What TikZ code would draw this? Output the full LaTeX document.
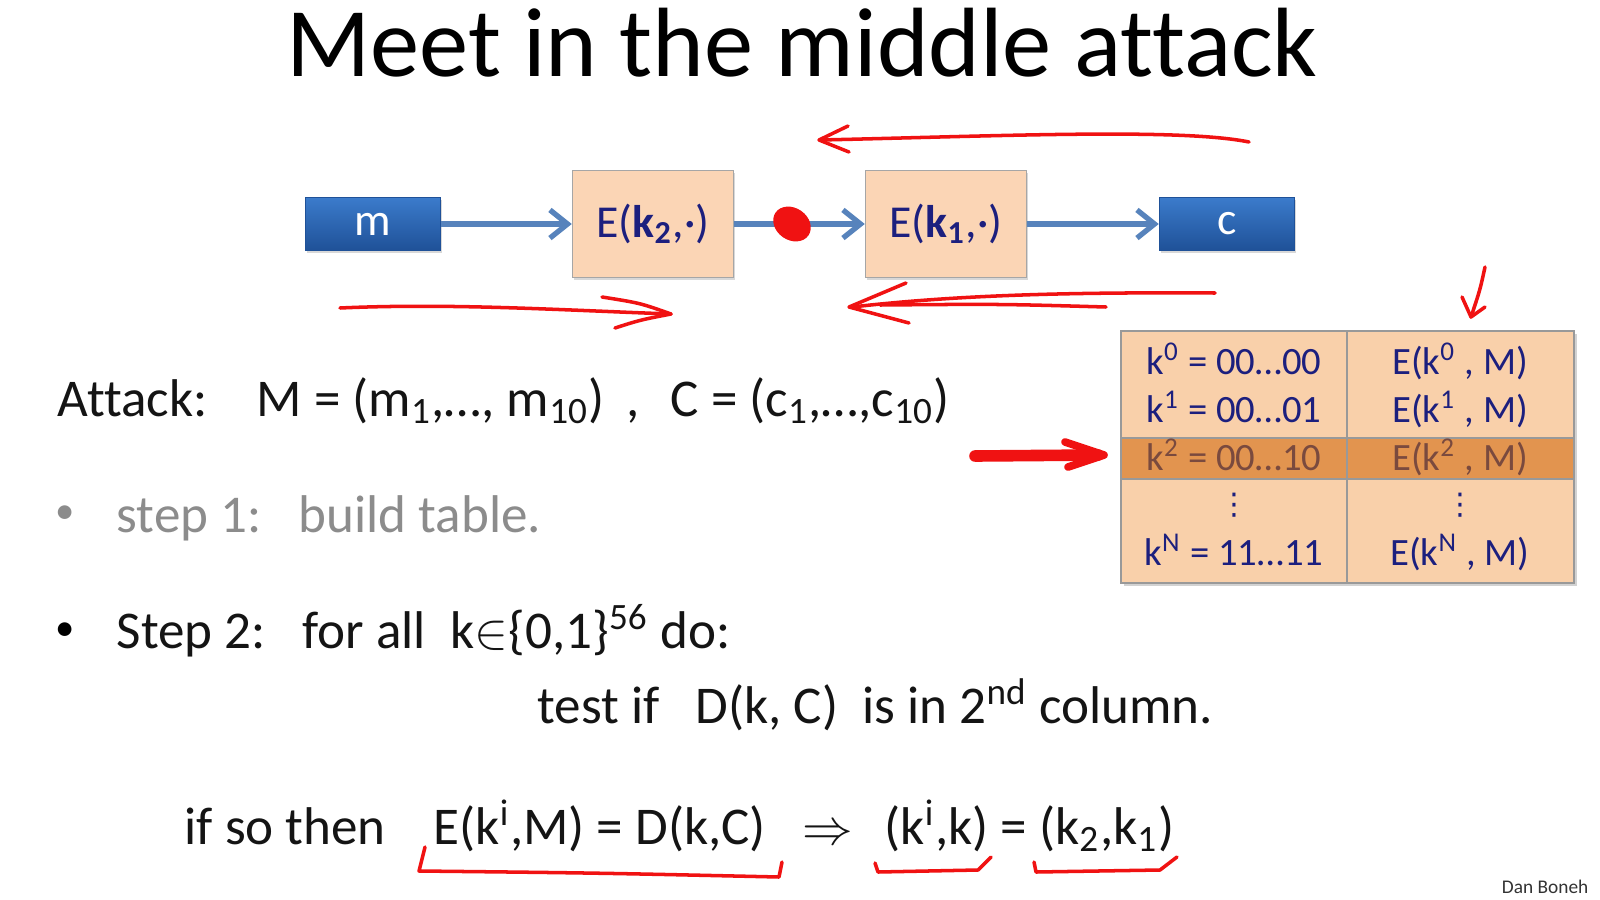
\documentclass[tikz,border=0pt]{standalone}
\usepackage{fontspec}
\setmainfont{Carlito}[Ligatures=NoCommon]
\newfontfamily\symfont{DejaVu Sans}
\usepackage{amssymb}
\usetikzlibrary{arrows.meta,shadows}

\definecolor{boxtop}{HTML}{3B7BCB}
\definecolor{boxbot}{HTML}{1F5198}
\definecolor{peach}{HTML}{FBD5B5}
\definecolor{tabpeach}{HTML}{F9D0AA}
\definecolor{tabhi}{HTML}{E2944F}
\definecolor{navy}{HTML}{1C1F7E}
\definecolor{hiink}{HTML}{7A4A3E}
\definecolor{flowblue}{HTML}{5783BC}
\definecolor{penred}{HTML}{F01212}
\definecolor{dimgray}{HTML}{8C8C8C}

\tikzset{
  title/.style={font=\fontsize{28}{32}\selectfont, anchor=base, inner sep=0pt},
  body/.style={font=\fontsize{15.1}{18}\selectfont, text=black!92, anchor=base west, inner sep=0pt},
  faded/.style={body, text=dimgray},
  bullet/.style={font=\fontsize{11}{12}\selectfont, anchor=center, inner sep=0pt},
  bluebox/.style={rectangle, minimum width=1.35cm, minimum height=0.53cm, top color=boxtop, bottom color=boxbot,
    draw=boxbot, text=white, font=\fontsize{13}{15}\selectfont,
    drop shadow={shadow xshift=0.5pt, shadow yshift=-0.7pt, opacity=0.3}},
  encbox/.style={rectangle, minimum width=1.61cm, minimum height=1.07cm, fill=peach, draw=black!35,
    text=navy, font=\fontsize{13}{15}\selectfont,
    drop shadow={shadow xshift=0.5pt, shadow yshift=-0.7pt, opacity=0.3}},
  flow/.style={->, draw=flowblue, line width=1.5pt},
  cell/.style={font=\fontsize{11}{13}\selectfont, text=navy, anchor=base, inner sep=0pt},
  vdot/.style={font=\fontsize{8.5}{10}\symfont, text=navy, anchor=center, inner sep=0pt},
  pen/.style={draw=penred, line width=1pt, line cap=round, line join=round},
}

\begin{document}
\begin{tikzpicture}[x=0.01cm, y=-0.01cm, >={Straight Barb[length=5pt,width=8pt]}]
  \useasboundingbox[fill=white] (0,0) rectangle (1600,900);

  \node[title] (head) at (802,77) {Meet in the middle attack};

  % the double encryption chain
  \node[bluebox] (msg) at (373,224) {m};
  \node[encbox] (enc2) at (653,224) {E(\textbf{k}\textsubscript{\textbf{2}},·)};
  \node[encbox] (enc1) at (946,224) {E(\textbf{k}\textsubscript{\textbf{1}},·)};
  \node[bluebox] (ctxt) at (1227,224) {c};
  \draw[flow] (msg) -- (enc2);
  \draw[flow] (enc2) -- (enc1);
  \draw[flow] (enc1) -- (ctxt);
  \fill[penred, rotate around={-35:(792,224)}] (792,224) ellipse [x radius=20, y radius=16];

  % the table
  \filldraw[draw=black!40, fill=tabpeach, drop shadow={shadow xshift=0.8pt, shadow yshift=-0.8pt, opacity=0.35}]
    (1121,331) rectangle (1574,583);
  \fill[tabhi] (1121,438) rectangle (1574,479);
  \draw[black!40] (1121,438) -- (1574,438) (1121,479) -- (1574,479) (1347,331) -- (1347,583);
  \draw[black!40] (1121,331) rectangle (1574,583);
  \node[cell] (k0) at (1234,374) {k\textsuperscript{0} = 00…00};
  \node[cell] (e0) at (1460,374) {E(k\textsuperscript{0} , M)};
  \node[cell] (k1) at (1234,422) {k\textsuperscript{1} = 00…01};
  \node[cell] (e1) at (1460,422) {E(k\textsuperscript{1} , M)};
  \node[cell, text=hiink] (k2) at (1234,470) {k\textsuperscript{2} = 00…10};
  \node[cell, text=hiink] (e2) at (1460,470) {E(k\textsuperscript{2} , M)};
  \node[vdot] (kd) at (1234,505) {⋮};
  \node[vdot] (ed) at (1460,505) {⋮};
  \node[cell] (kN) at (1234,565) {k\textsuperscript{N} = 11…11};
  \node[cell] (eN) at (1460,565) {E(k\textsuperscript{N} , M)};

  % text of the slide
  \node[body] (atk) at (57,416) {Attack:};
  \node[body] (mvec) at (256,416) {M = (m\textsubscript{1},…, m\textsubscript{10})};
  \node[body] (sep) at (626,416) {,};
  \node[body] (cvec) at (670,416) {C = (c\textsubscript{1},…,c\textsubscript{10})};

  \node[bullet, text=dimgray] (dot1) at (65,515) {•};
  \node[faded] (st1) at (116,532) {step 1:};
  \node[faded] (build) at (298,532) {build table.};

  \node[bullet] (dot2) at (65,632) {•};
  \node[body] (st2) at (116,648) {Step 2:};
  \node[body] (forall) at (302,648) {for all};
  \node[body] (keys) at (450,648) {k$\in$\{0,1\}\textsuperscript{56} do:};

  \node[body] (test) at (537,723) {test if};
  \node[body] (dec) at (695,723) {D(k, C)};
  \node[body] (col) at (862,723) {is in 2\textsuperscript{nd} column.};

  \node[body] (ifso) at (184,844) {if so then};
  \node[body] (lhs) at (433,844) {E(k\textsuperscript{i},M) = D(k,C)};
  \node[body] (impl) at (802,844) {$\Rightarrow$};
  \node[body] (pair) at (884,844) {(k\textsuperscript{i},k) = (k\textsubscript{2},k\textsubscript{1})};

  \node[font=\fontsize{5.5}{7}\selectfont, text=black!80, anchor=base east, inner sep=0pt] (auth) at (1589,893) {Dan Boneh};

  % red pen marks
  \draw[pen] (1249,142) .. controls (1180,128) and (1000,136) .. (820,140);
  \draw[pen] (848,126) -- (819,140) -- (849,152);
  \draw[pen] (340,308) .. controls (450,303) and (560,310) .. (671,314);
  \draw[pen] (602,297) .. controls (640,303) .. (671,314) .. controls (640,320) .. (615,328);
  \draw[pen] (1215,293) .. controls (1050,292) and (950,296) .. (852,307);
  \draw[pen] (1106,307) .. controls (1000,304) .. (880,305);
  \draw[pen] (906,283) -- (849,307) -- (909,323);
  \draw[pen] (1485,267) .. controls (1480,290) .. (1471,317);
  \draw[pen] (1462,297) -- (1471,317) -- (1485,307);
  \draw[pen, line width=3.3pt] (975,456) -- (1098,455);
  \draw[pen, line width=2.2pt] (1065,442) -- (1104,455) -- (1068,467);
  \draw[pen] (425,847) -- (419,871) .. controls (600,873) .. (779,877) -- (782,862);
  \draw[pen] (875,863) -- (878,872) -- (978,870) -- (991,857);
  \draw[pen] (1034,862) -- (1036,872) -- (1160,870) -- (1177,857);
\end{tikzpicture}
\end{document}
